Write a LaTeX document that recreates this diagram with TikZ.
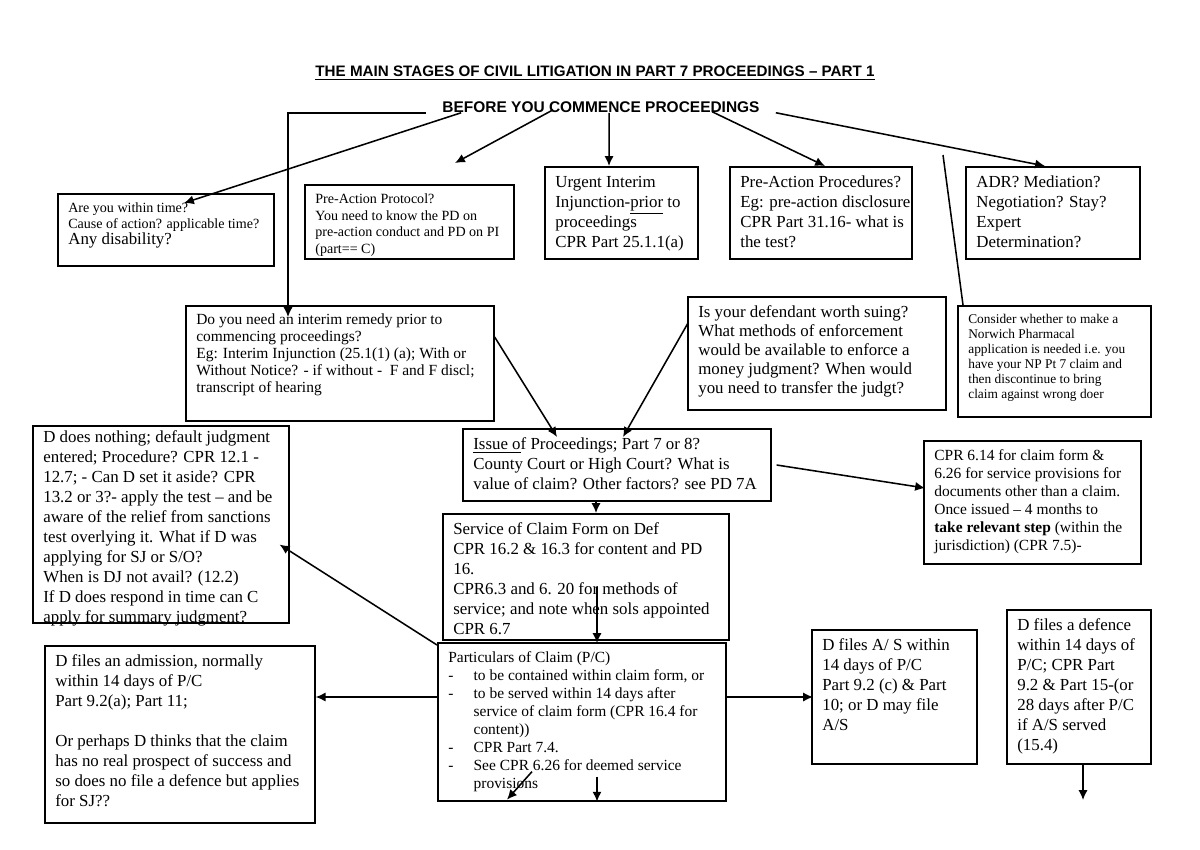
\documentclass[tikz,border=0pt]{standalone}
\usepackage{fontspec}
\setmainfont{Liberation Serif}
\newfontfamily\headfont{Liberation Sans}
\usetikzlibrary{arrows.meta}
\newcommand{\dashitem}{\par\hangindent=18pt\hangafter=1\noindent\makebox[18pt][l]{-}}
\tikzset{
    stage/.style 2 args={draw, line width=1.1pt, anchor=north west, inner xsep=0.5pt, inner ysep=5pt,
        execute at begin node={\begin{minipage}[t][#2][t]{#1}\raggedright\leftskip=7pt\strut},
        execute at end node={\end{minipage}}},
    bigfont/.style={font=\fontsize{12}{14.2}\selectfont},
    midfont/.style={font=\fontsize{11}{12.8}\selectfont},
    arr/.style={-{Latex[length=7pt,width=6.5pt]}, line width=1.1pt},
}

\begin{document}
\begin{tikzpicture}[x=0.025cm,y=-0.025cm]
\useasboundingbox (0,0) rectangle (1200,849);

% headings
\node[font=\headfont\bfseries\fontsize{10.8}{12}\selectfont] (title) at (595,73) {\underline{THE MAIN STAGES OF CIVIL LITIGATION IN PART 7 PROCEEDINGS – PART 1}};
\node[font=\headfont\bfseries\fontsize{11}{13}\selectfont, inner sep=0pt] (hdr) at (601,107) {BEFORE YOU COMMENCE PROCEEDINGS};

% before proceedings
\node[stage={152.6pt}{41.2pt}, font=\fontsize{10}{11.4}\selectfont] (timebox) at (57,193) {Are you within time?\\Cause of action? applicable time?\\{\fontsize{12}{14.2}\selectfont Any disability?}};
\node[stage={147.7pt}{42.6pt}, font=\fontsize{10}{11.8}\selectfont] (protocol) at (304,184) {Pre-Action Protocol?\\You need to know the PD on\\pre-action conduct and PD on PI\\(part== C)};
\node[stage={107.8pt}{55.4pt}, bigfont] (urgent) at (544,166) {Urgent Interim\\Injunction-\underline{prior} to\\proceedings\\CPR Part 25.1.1(a)};
\node[stage={128.5pt}{55.4pt}, bigfont] (procedures) at (729,166) {Pre-Action Procedures?\\Eg: pre-action disclosure\\CPR Part 31.16- what is\\the test?};
\node[stage={122.8pt}{55.4pt}, bigfont] (adr) at (965,166) {ADR? Mediation?\\Negotiation? Stay?\\Expert\\Determination?};

\node[stage={218.1pt}{71.8pt}, font=\fontsize{11}{12.1}\selectfont] (interim) at (185,305) {Do you need an interim remedy prior to\\commencing proceedings?\\Eg: Interim Injunction (25.1(1) (a); With or\\Without Notice? - if without -\ \ F and F discl;\\transcript of hearing};
\node[stage={182.5pt}{70.4pt}, font=\fontsize{12}{13.5}\selectfont] (worth) at (687,296) {Is your defendant worth suing?\\What methods of enforcement\\would be available to enforce a\\money judgment? When would\\you need to transfer the judgt?};
\node[stage={136.3pt}{69pt}, font=\fontsize{9.5}{10.7}\selectfont] (norwich) at (957,305) {Consider whether to make a\\Norwich Pharmacal\\application is needed i.e. you\\have your NP Pt 7 claim and\\then discontinue to bring\\claim against wrong doer};

% issue and service
\node[stage={218.1pt}{41.2pt}, bigfont] (issue) at (462,428) {\underline{Issue o}f Proceedings; Part 7 or 8?\\County Court or High Court? What is\\value of claim? Other factors? see PD 7A};
\node[stage={153.4pt}{77.5pt}, midfont] (rules) at (923,440) {CPR 6.14 for claim form \&\\6.26 for service provisions for\\documents other than a claim.\\Once issued – 4 months to\\\textbf{take relevant step} (within the\\jurisdiction) (CPR 7.5)-};
\node[stage={202.4pt}{79.6pt}, bigfont] (serve) at (442,513) {Service of Claim Form on Def\\CPR 16.2 \& 16.3 for content and PD\\16.\\CPR6.3 and 6. 20 for methods of\\service; and note when sols appointed\\CPR 6.7};
\node[stage={203.9pt}{102.4pt}, midfont] (partic) at (437,642) {Particulars of Claim (P/C)
    \dashitem to be contained within claim form, or
    \dashitem to be served within 14 days after\newline service of claim form (CPR 16.4 for\newline content))
    \dashitem CPR Part 7.4.
    \dashitem See CPR 6.26 for deemed service\newline provisions\par};

% responses
\node[stage={181.1pt}{136.1pt}, inner ysep=2pt, bigfont] (default) at (32,425) {D does nothing; default judgment\\entered; Procedure? CPR 12.1 -\\12.7; - Can D set it aside? CPR\\13.2 or 3?- apply the test – and be\\aware of the relief from sanctions\\test overlying it. What if D was\\applying for SJ or S/O?\\When is DJ not avail? (12.2)\\If D does respond in time can C\\apply for summary judgment?};
\node[stage={191.1pt}{115.9pt}, bigfont] (admit) at (44,645) {D files an admission, normally\\within 14 days of P/C\\Part 9.2(a); Part 11;\\[14.2pt]Or perhaps D thinks that the claim\\has no real prospect of success and\\so does no file a defence but applies\\for SJ??};
\node[stage={116.4pt}{85.3pt}, bigfont] (ack) at (811,629) {D files A/ S within\\14 days of P/C\\Part 9.2 (c) \& Part\\10; or D may file\\A/S};
\node[stage={101.4pt}{99.5pt}, bigfont] (defence) at (1006,609) {D files a defence\\within 14 days of\\P/C; CPR Part\\9.2 \& Part 15-(or\\28 days after P/C\\if A/S served\\(15.4)};

\coordinate (ppt) at (455,163);
\coordinate (npt) at (943,155);
\coordinate (dend) at (1083,800);

% connectors
\draw[arr] ([shift={(19,0)}]hdr.south west) -- ([shift={(127,10)}]timebox.north west);
\draw[arr] ([shift={(111,-3)}]hdr.south west) -- (ppt);
\draw[arr] ([shift={(167,0)}]hdr.south west) -- ([shift={(65,0)}]urgent.north west);
\draw[arr] ([shift={(270,-1)}]hdr.south west) -- ([shift={(96,0)}]procedures.north west);
\draw[arr] ([shift={(16,0)}]hdr.south east) -- ([shift={(80,0)}]adr.north west);
\draw[line width=1.1pt] (npt) -- ([shift={(6,0)}]norwich.north west);
\draw[arr] ([shift={(-16,0)}]hdr.south west) -| ([shift={(103,12)}]interim.north west);

\draw[arr] ([shift={(0,32)}]interim.north east) -- ([shift={(95,9)}]issue.north west);
\draw[arr] ([shift={(1,27)}]worth.north west) -- ([shift={(161,9)}]issue.north west);
\draw[arr] ([shift={(5,37)}]issue.north east) -- ([shift={(2,48)}]rules.north west);
\draw[arr] ([shift={(134,0)}]issue.south west) -- ([shift={(154,0)}]serve.north west);
\draw[arr] ([shift={(155,-54)}]serve.south west) -- ([shift={(160,1)}]partic.north west);
\draw[arr] ([shift={(160,-25)}]partic.south west) -- ([shift={(160,0)}]partic.south west);
\draw[arr] ([shift={(95,-30)}]partic.south west) -- ([shift={(70,-2)}]partic.south west);

\draw[arr] ([shift={(0,3)}]partic.north west) -- ([shift={(-10,-79)}]default.south east);
\draw[arr] ([shift={(0,55)}]partic.north west) -- ([shift={(0,52)}]admit.north east);
\draw[arr] ([shift={(0,55)}]partic.north east) -- ([shift={(2,68)}]ack.north west);
\draw[arr] ([shift={(77,0)}]defence.south west) -- (dend);
\end{tikzpicture}
\end{document}
